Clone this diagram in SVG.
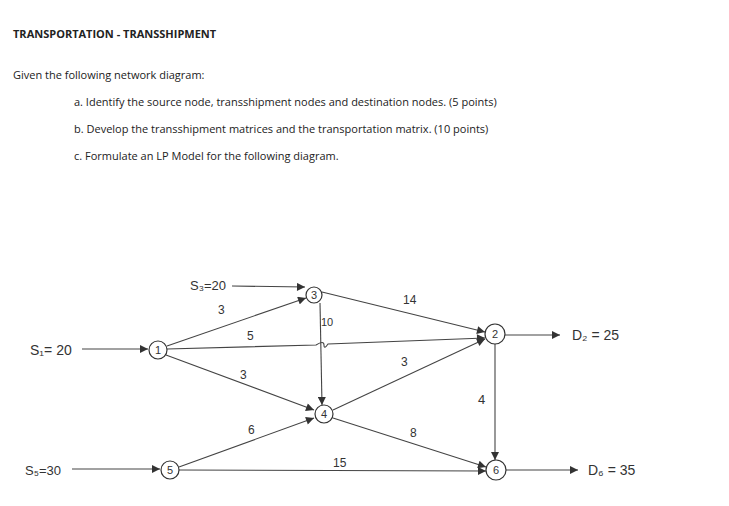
<svg xmlns="http://www.w3.org/2000/svg" width="729" height="506" viewBox="0 0 729 506">
<style>
.t{font-family:"Open Sans","Liberation Sans",sans-serif;font-size:11px;fill:#222}
.h{font-family:"Liberation Sans",sans-serif;font-size:14px;fill:#333}
.n{fill:#fff;stroke:#333;stroke-width:1.2}
.nl{font-family:"Liberation Sans",sans-serif;font-size:11px;fill:#333;text-anchor:middle}
.e{fill:none;stroke:#444;stroke-width:1.1}
</style>
<defs>
<marker id="a" viewBox="0 0 10 10" refX="10" refY="5" markerWidth="10" markerHeight="8" orient="auto" markerUnits="userSpaceOnUse"><path d="M0,0L10,5L0,10z" fill="#333"/></marker>
</defs>
<rect width="729" height="506" fill="#fff"/>
<text class="t" x="13" y="38" font-weight="bold">TRANSPORTATION - TRANSSHIPMENT</text>
<text class="t" x="13" y="79">Given the following network diagram:</text>
<text class="t" x="74" y="106">a. Identify the source node, transshipment nodes and destination nodes. (5 points)</text>
<text class="t" x="74" y="133">b. Develop the transshipment matrices and the transportation matrix.  (10 points)</text>
<text class="t" x="74" y="160">c. Formulate an LP Model for the following diagram.</text>
<g id="connectors">
<line class="e" x1="232" y1="286" x2="305" y2="287" marker-end="url(#a)"/>
<line class="e" x1="82" y1="349" x2="148" y2="349" marker-end="url(#a)"/>
<line class="e" x1="72" y1="469" x2="160" y2="469" marker-end="url(#a)"/>
<line class="e" x1="167" y1="346" x2="306" y2="298" marker-end="url(#a)"/>
<path class="e" d="M167,349 L316,345 Q324,340 324,345 Q324,350 328,344 L485,338" marker-end="url(#a)"/>
<line class="e" x1="166" y1="355" x2="314" y2="410" marker-end="url(#a)"/>
<line class="e" x1="179" y1="467" x2="314" y2="418" marker-end="url(#a)"/>
<line class="e" x1="179" y1="470" x2="486" y2="471" marker-end="url(#a)"/>
<line class="e" x1="322" y1="292" x2="485" y2="332" marker-end="url(#a)"/>
<line class="e" x1="320" y1="303" x2="322" y2="405" marker-end="url(#a)"/>
<line class="e" x1="333" y1="410" x2="485" y2="339" marker-end="url(#a)"/>
<line class="e" x1="333" y1="418" x2="486" y2="467" marker-end="url(#a)"/>
<line class="e" x1="495" y1="344" x2="495" y2="460" marker-end="url(#a)"/>
<line class="e" x1="505" y1="335" x2="560" y2="335" marker-end="url(#a)"/>
<line class="e" x1="506" y1="470" x2="578" y2="470" marker-end="url(#a)"/>
</g>
<g id="labels" class="h">
<text x="190" y="290" font-size="13">S₃=20</text>
<text x="30" y="355">S₁= 20</text>
<text x="25" y="475" font-size="13">S₅=30</text>
<text x="572" y="340">D₂ = 25</text>
<text x="588" y="475">D₆  = 35</text>
<text x="218" y="314" font-size="12">3</text>
<text x="247" y="340" font-size="12">5</text>
<text x="240" y="379" font-size="12">3</text>
<text x="248" y="434" font-size="12">6</text>
<text x="333" y="467" font-size="12">15</text>
<text x="403" y="304" font-size="12">14</text>
<text x="321" y="326" font-size="11">10</text>
<text x="401" y="366" font-size="12">3</text>
<text x="410" y="437" font-size="12">8</text>
<text x="478" y="404" font-size="13">4</text>
</g>
<g id="node1"><circle class="n" cx="158" cy="350" r="9"/><text class="nl" x="158" y="354">1</text></g>
<g id="node2"><circle class="n" cx="495" cy="334" r="10"/><text class="nl" x="495" y="338">2</text></g>
<g id="node3"><circle class="n" cx="314" cy="295" r="8"/><text class="nl" x="314" y="299">3</text></g>
<g id="node4"><circle class="n" cx="324" cy="414" r="9"/><text class="nl" x="324" y="418">4</text></g>
<g id="node5"><circle class="n" cx="170" cy="470" r="9"/><text class="nl" x="170" y="474">5</text></g>
<g id="node6"><circle class="n" cx="496" cy="470" r="10"/><text class="nl" x="496" y="474">6</text></g>
</svg>
